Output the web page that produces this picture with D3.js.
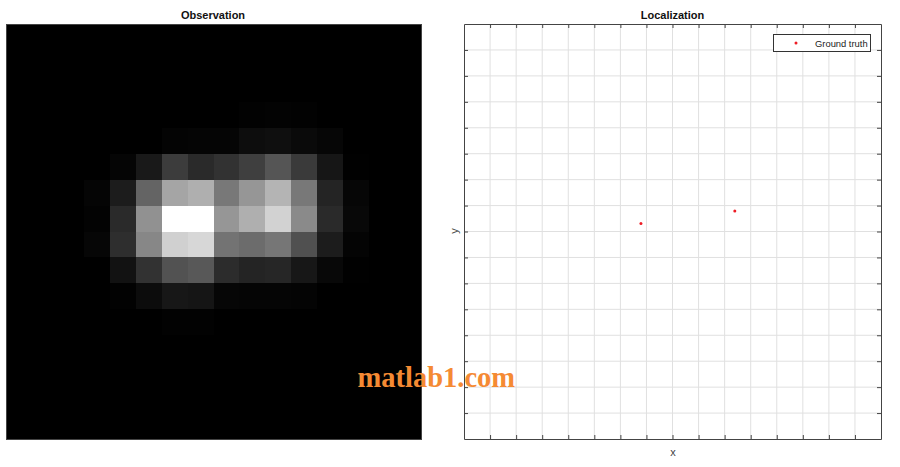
<!DOCTYPE html>
<html><head><meta charset="utf-8">
<script src="https://cdn.jsdelivr.net/npm/d3@7"></script>
<style>html,body{margin:0;padding:0;background:#fff}svg{display:block}text{font-family:"Liberation Sans",Arial,sans-serif}</style>
</head><body><svg id="c" width="900" height="467"></svg>
<script>
const gridSize = 16;
const titles = ["Observation", "Localization"];
const xLabel = "x", yLabel = "y";
const legendLabel = "Ground truth";
const watermark = "matlab1.com";
const truthX = [6.79, 10.39];
const truthY = [8.31, 8.79];
const rowsFromTop = [
 [0,0,0,0,0,0,0,0,0,0,0,0,0,0,0,0],
 [0,0,0,0,0,0,0,0,0,0,0,0,0,0,0,0],
 [0,0,0,0,0,0,0,0,0,0,0,0,0,0,0,0],
 [0,0,0,0,0,0,0,0,0,2,3,2,0,0,0,0],
 [0,0,0,0,0,0,4,5,5,13,15,10,6,0,0,0],
 [0,0,0,0,5,25,60,42,50,63,85,58,22,1,0,0],
 [0,0,0,5,28,100,165,175,120,150,180,120,36,6,0,0],
 [0,0,0,3,42,145,255,255,150,175,210,138,42,8,0,0],
 [0,0,0,6,46,135,208,215,115,108,118,80,28,4,0,0],
 [0,0,0,0,18,50,82,88,44,36,38,23,8,1,0,0],
 [0,0,0,0,2,12,23,21,6,5,5,4,0,0,0,0],
 [0,0,0,0,0,0,2,2,0,0,0,0,0,0,0,0],
 [0,0,0,0,0,0,0,0,0,0,0,0,0,0,0,0],
 [0,0,0,0,0,0,0,0,0,0,0,0,0,0,0,0],
 [0,0,0,0,0,0,0,0,0,0,0,0,0,0,0,0],
 [0,0,0,0,0,0,0,0,0,0,0,0,0,0,0,0]
];
const svg = d3.select("#c");
const idx = d3.range(gridSize);

// left panel
const hx = d3.scaleBand().domain(idx).range([6,421]);
const hy = d3.scaleBand().domain(idx).range([24,439]);
const gray = d3.scaleLinear().domain([0,255]).range(["#000","#fff"]);
const left = svg.append("g").attr("shape-rendering","crispEdges");
rowsFromTop.forEach((row,r)=>{
  left.selectAll(null).data(row).join("rect")
    .attr("x",(d,c)=>hx(c)).attr("y",hy(r))
    .attr("width",hx.bandwidth()+0.5).attr("height",hy.bandwidth()+0.5)
    .attr("fill",d=>gray(d));
});
left.append("rect").attr("x",6).attr("y",24).attr("width",415).attr("height",415)
  .attr("fill","none").attr("stroke","#444").attr("stroke-width",1);
svg.append("text").attr("x",213).attr("y",19).attr("text-anchor","middle")
  .attr("font-size",11).attr("font-weight","bold").attr("fill","#111").text(titles[0]);

// right panel
const x = d3.scaleLinear().domain([0,gridSize]).range([464,881]);
const y = d3.scaleLinear().domain([0,gridSize]).range([439,24]);
const ticks = d3.range(1,gridSize);
const right = svg.append("g");
right.append("g").selectAll("line").data(ticks).join("line")
  .attr("x1",d=>x(d)).attr("x2",d=>x(d)).attr("y1",y(0)).attr("y2",y(gridSize))
  .attr("stroke","#e0e0e0");
right.append("g").selectAll("line").data(ticks).join("line")
  .attr("y1",d=>y(d)).attr("y2",d=>y(d)).attr("x1",x(0)).attr("x2",x(gridSize))
  .attr("stroke","#e0e0e0");
const axes = [
  [d3.axisBottom(x),`translate(0,${y(0)})`,-4],
  [d3.axisTop(x),`translate(0,${y(gridSize)})`,-4],
  [d3.axisLeft(y),`translate(${x(0)},0)`,-4],
  [d3.axisRight(y),`translate(${x(gridSize)},0)`,-4]
];
axes.forEach(([a,t,s])=>{
  const g = right.append("g").attr("transform",t)
    .call(a.tickValues(ticks).tickFormat("").tickSizeOuter(0).tickSizeInner(s));
  g.selectAll("line,path").attr("stroke","#444");
});
right.append("g").selectAll("circle").data(truthX).join("circle")
  .attr("cx",d=>x(d)).attr("cy",(d,i)=>y(truthY[i])).attr("r",1.5).attr("fill","#ee1c25");
svg.append("text").attr("x",672.5).attr("y",19).attr("text-anchor","middle")
  .attr("font-size",11).attr("font-weight","bold").attr("fill","#111").text(titles[1]);
svg.append("text").attr("x",673).attr("y",456).attr("text-anchor","middle")
  .attr("font-size",11).attr("fill","#444").text(xLabel);
svg.append("text").attr("transform","translate(458,231) rotate(-90)").attr("text-anchor","middle")
  .attr("font-size",11).attr("fill","#444").text(yLabel);

// legend
svg.append("rect").attr("x",773.5).attr("y",34.5).attr("width",97).attr("height",17)
  .attr("fill","#fff").attr("stroke","#333");
svg.append("circle").attr("cx",796).attr("cy",43).attr("r",1.5).attr("fill","#ee1c25");
svg.append("text").attr("x",815).attr("y",46.5).attr("font-size",9.4).attr("fill","#222").text(legendLabel);

// watermark
svg.append("text").attr("x",357.5).attr("y",386.5)
  .attr("style","font-family:'Liberation Serif',serif").attr("font-size",28.5).attr("font-weight","bold")
  .attr("fill","#f58a33").text(watermark);
</script></body></html>
